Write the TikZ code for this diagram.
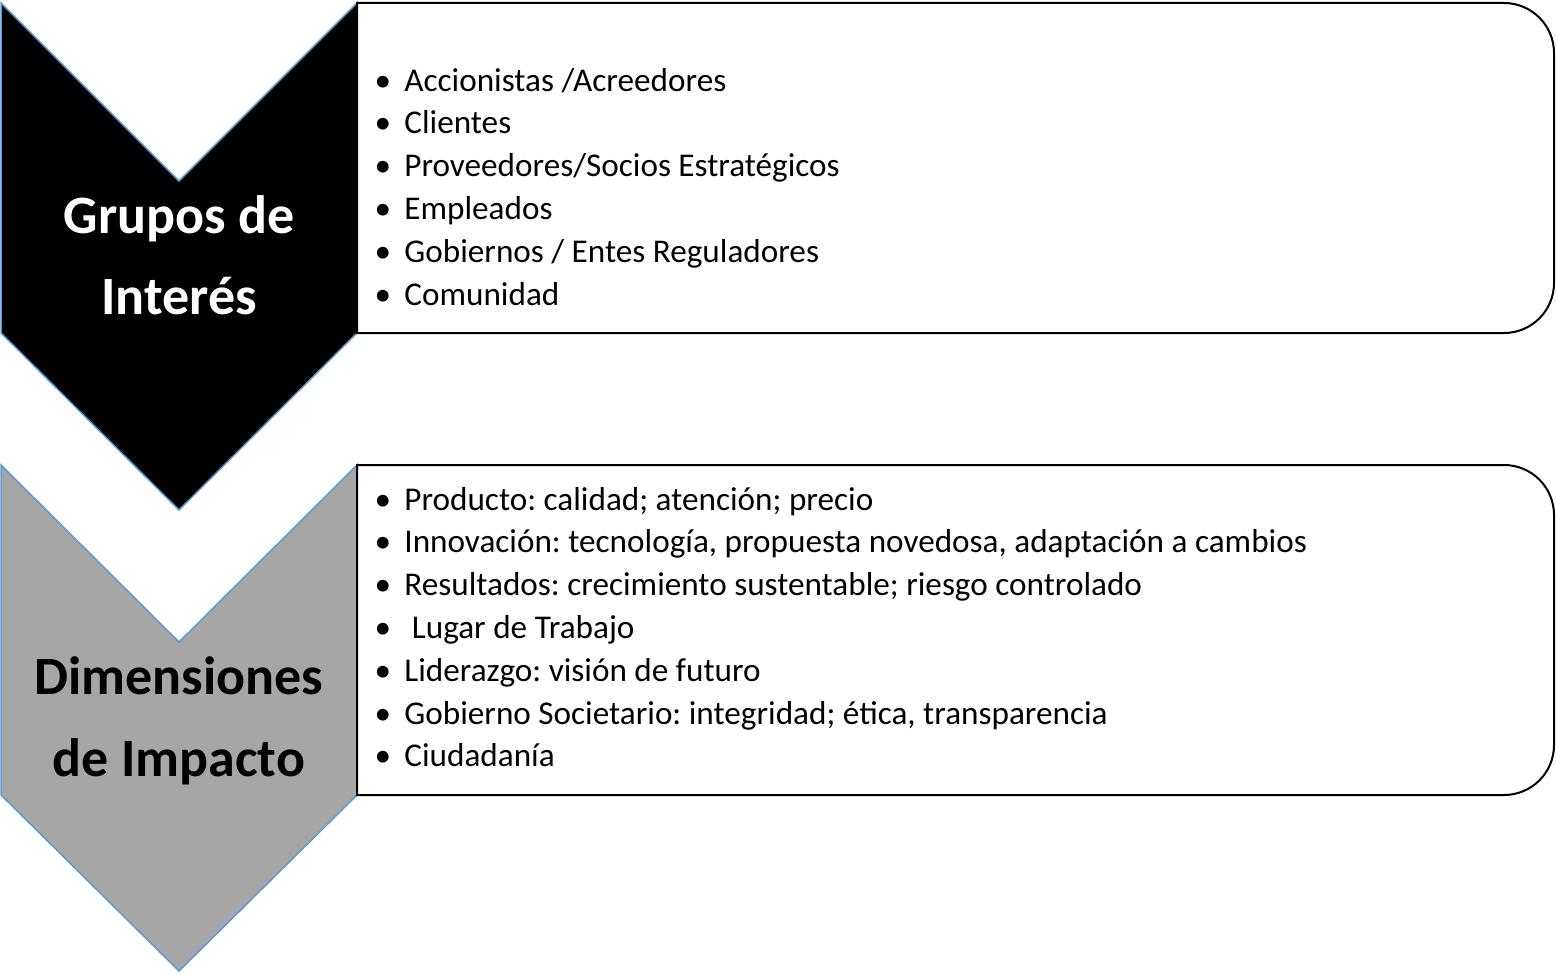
\documentclass[tikz,border=0pt]{standalone}
\usepackage{fontspec}
\setmainfont{Carlito}
\usepackage{tikz}
\usetikzlibrary{positioning}
\definecolor{chevronblue}{HTML}{5B9BD5}
\definecolor{chevrongray}{HTML}{A6A6A6}
\frenchspacing

\begin{document}
\begin{tikzpicture}[x = 0.5pt, y = -0.5pt, style={line join = miter}]
  \tikzset{
    chevron/.style={draw=chevronblue, line width=0.75pt},
    listbox/.style={draw=black, line width=1pt, fill=white},
    chevtitle/.style={font=\bfseries\fontsize{27}{32}\selectfont, anchor=base, inner sep=0pt},
    bulletmark/.style={font=\fontsize{16.6}{20}\selectfont, anchor=base, inner sep=0pt},
    itemtext/.style={font=\fontsize{16.6}{20}\selectfont, anchor=base west, inner sep=0pt}
  }
  \useasboundingbox (0,0) rectangle (1556,974);

  % first chevron and its list
  \fill[black, chevron] (1,3) -- (179,181) -- (357,3) -- (357,333) -- (179,510) -- (1,333) -- cycle;
  \draw[listbox] (357,333) -- (357,3) -- (1504,3) arc[start angle = 90, end angle = 0, radius = 25pt]
    -- (1554,283) arc[start angle = 0, end angle = -90, radius = 25pt] -- cycle;
  \node[chevtitle, text=white] (grupos) at (179,233) {Grupos de};
  \node[chevtitle, text=white] (interes) at (179,314) {Interés};
  \foreach \txt [count=\i from 0] in {Accionistas /Acreedores, Clientes, Proveedores/Socios Estratégicos,
      Empleados, Gobiernos / Entes Reguladores, Comunidad}
  {
    \node[bulletmark] (gbul-\i) at (383, 91+42.8*\i) {\textbullet};
    \node[itemtext] (gitem-\i) at (404, 91+42.8*\i) {\txt};
  }

  % second chevron and its list
  \fill[chevrongray, chevron] (1,465) -- (179,642) -- (357,465) -- (357,795) -- (179,971) -- (1,795) -- cycle;
  \draw[listbox] (357,795) -- (357,465) -- (1504,465) arc[start angle = 90, end angle = 0, radius = 25pt]
    -- (1554,745) arc[start angle = 0, end angle = -90, radius = 25pt] -- cycle;
  \node[chevtitle] (dimensiones) at (179,694) {Dimensiones};
  \node[chevtitle] (impacto) at (179,776) {de Impacto};
  \foreach \txt [count=\i from 0] in {Producto: calidad; atención; precio,
      {Innovación: tecnología, propuesta novedosa, adaptación a cambios},
      Resultados: crecimiento sustentable; riesgo controlado,
      \ Lugar de Trabajo, Liderazgo: visión de futuro,
      {Gobierno Societario: integridad; ética, transparencia}, Ciudadanía}
  {
    \node[bulletmark] (dbul-\i) at (383, 510+42.8*\i) {\textbullet};
    \node[itemtext] (ditem-\i) at (404, 510+42.8*\i) {\txt};
  }
\end{tikzpicture}
\end{document}
